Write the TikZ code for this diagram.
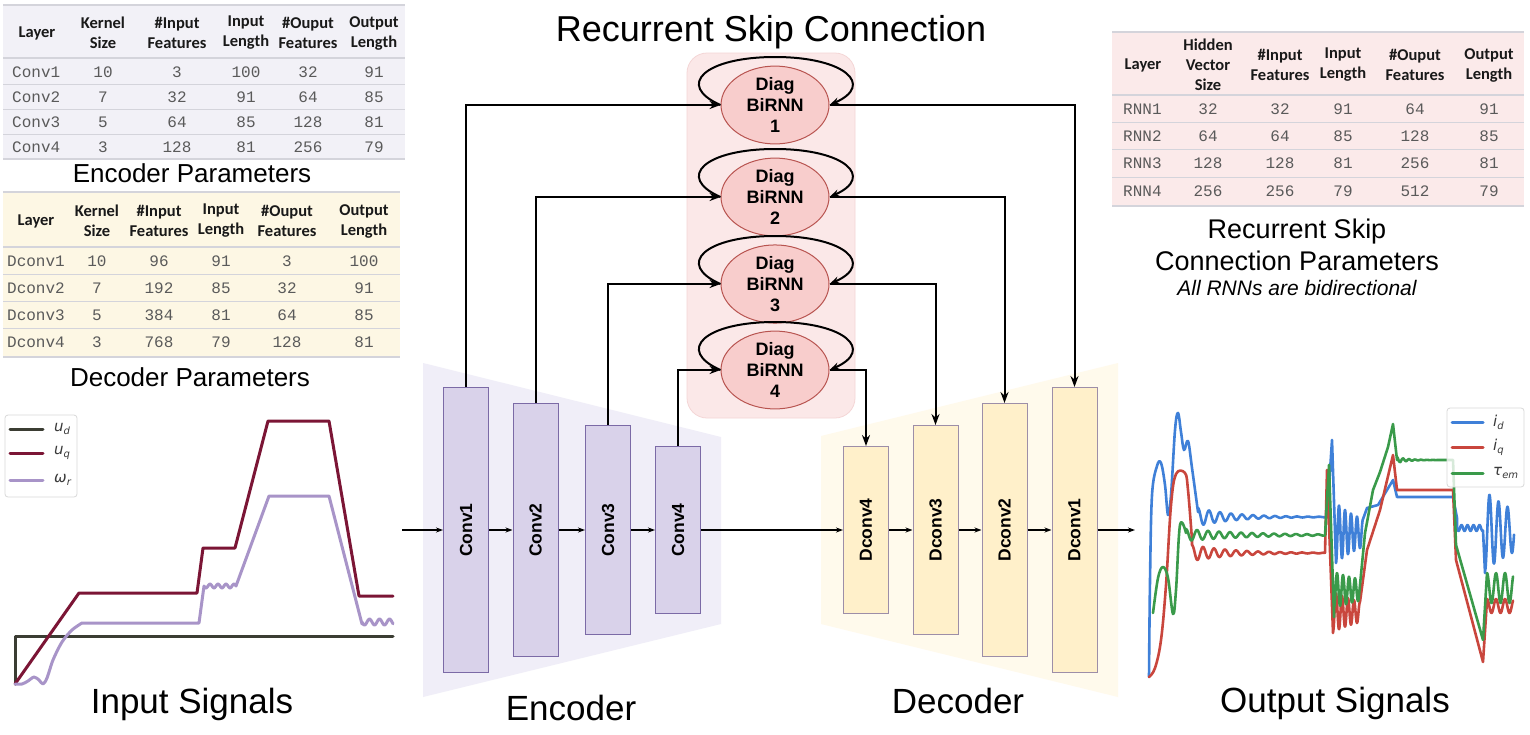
\documentclass[tikz,border=0pt]{standalone}
\usepackage{fontspec}
\setmainfont{Liberation Sans}
\newfontfamily\hdrf{Carlito}
\newfontfamily\monof{Liberation Mono}
\newfontfamily\dvsf{DejaVu Sans}
\usetikzlibrary{arrows.meta,shapes.geometric}
\newcommand\fsz[2]{\fontsize{#1}{#2}\selectfont}
\newcommand\lsub[2]{#1\raisebox{-0.35ex}{\fontsize{10}{10}\selectfont #2}}
\definecolor{encbg}{HTML}{F2F1F7}
\definecolor{decbg}{HTML}{FDF7E4}
\definecolor{rnnbg}{HTML}{FBEAEA}
\definecolor{tline}{HTML}{D4D4DB}
\definecolor{datgray}{HTML}{5A5A5A}
\definecolor{enctrap}{HTML}{F0EEF8}
\definecolor{dectrap}{HTML}{FFFAEC}
\definecolor{encfill}{HTML}{D9D2EA}
\definecolor{encdraw}{HTML}{7B6AA6}
\definecolor{decfill}{HTML}{FFF0CA}
\definecolor{decdraw}{HTML}{9D8EA8}
\definecolor{rnnback}{HTML}{FBE8E8}
\definecolor{rnnbackd}{HTML}{F4D6D6}
\definecolor{ellfill}{HTML}{F8CDCC}
\definecolor{elldraw}{HTML}{B85450}
\definecolor{udcol}{HTML}{3B3D33}
\definecolor{uqcol}{HTML}{7B1535}
\definecolor{wrcol}{HTML}{A894C8}
\definecolor{idcol}{HTML}{3F80D8}
\definecolor{iqcol}{HTML}{C9463D}
\definecolor{tecol}{HTML}{3A9A4A}
\definecolor{legtxt}{HTML}{3A3A3A}
\begin{document}
\begin{tikzpicture}[x=1pt,y=-1pt,
  thdr/.style={font=\hdrf\bfseries\fsz{16.5}{20}, align=center, text=black!90, inner sep=0pt},
  tdat/.style={font=\monof\fsz{16}{20}, text=datgray, inner sep=0pt},
  thin line/.style={draw=tline, line width=1pt},
  thick line/.style={draw=tline, line width=2.2pt},
  caption/.style={font=\fsz{26}{32}, inner sep=0pt, anchor=base},
  biglabel/.style={font=\fsz{35}{40}, inner sep=0pt, anchor=base},
  encbox/.style={draw=encdraw, fill=encfill, line width=1pt, minimum width=45pt, inner sep=0pt},
  decbox/.style={draw=decdraw, fill=decfill, line width=1pt, minimum width=45pt, inner sep=0pt},
  boxlab/.style={rotate=90, font=\bfseries\fsz{17.5}{20}, inner sep=0pt},
  rnnell/.style={ellipse, draw=elldraw, fill=ellfill, line width=1pt, minimum width=108pt, minimum height=74pt, inner sep=0pt, align=center, font=\bfseries\fsz{18}{21}},
  skiparr/.style={line width=2pt, -{Stealth[length=11pt,width=8pt]}},
  selfloop/.style={line width=2pt, -{Stealth[length=10pt,width=7pt]}},
  harr/.style={line width=1.2pt, -{Stealth[length=7pt,width=5pt]}},
  sig/.style={line width=3pt, line join=round, line cap=round},
  osig/.style={line width=2.6pt, line join=round, line cap=round},
  leglab/.style={font=\dvsf\itshape\fsz{15}{18}, text=legtxt, anchor=west, inner sep=0pt},
  legbox/.style={draw=black!15, fill=white, fill opacity=0.8, rounded corners=3pt, line width=0.8pt}
]
\useasboundingbox (0,0) rectangle (1530,734);
\fill[white] (0,0) rectangle (1530,734);

% ================= Encoder table =================
\fill[encbg] (3,5) rectangle (405,159);
\draw[thick line] (3,5) -- (405,5);
\draw[thick line] (3,58) -- (405,58);
\foreach \yy in {84.5,109.5,134.5}{\draw[thin line] (3,\yy) -- (405,\yy);}
\draw[thick line] (3,159) -- (405,159);
\node[thdr] (eh0) at (37,33) {Layer};
\node[thdr] (eh1) at (103,33) {Kernel\\Size};
\node[thdr] (eh2) at (177,33) {\#Input\\Features};
\node[thdr] (eh3) at (246,33) {Input\\Length};
\node[thdr] (eh4) at (308,33) {\#Ouput\\Features};
\node[thdr] (eh5) at (374,33) {Output\\Length};
\foreach \n/\a/\b/\c/\d/\e [count=\r] in {Conv1/10/3/100/32/91, Conv2/7/32/91/64/85, Conv3/5/64/85/128/81, Conv4/3/128/81/256/79}{
  \pgfmathsetmacro\yy{72+25*(\r-1)}
  \node[tdat, anchor=west, name=er\r-0] at (12,\yy) {\n};
  \node[tdat, name=er\r-1] at (103,\yy) {\a};
  \node[tdat, name=er\r-2] at (177,\yy) {\b};
  \node[tdat, name=er\r-3] at (246,\yy) {\c};
  \node[tdat, name=er\r-4] at (308,\yy) {\d};
  \node[tdat, name=er\r-5] at (374,\yy) {\e};
}
\node[caption] (encpar) at (192,182) {Encoder Parameters};

% ================= Decoder table =================
\fill[decbg] (3,192) rectangle (400,357);
\draw[thick line] (3,192) -- (400,192);
\draw[thick line] (3,247) -- (400,247);
\foreach \yy in {274.5,301.5,328.5}{\draw[thin line] (3,\yy) -- (400,\yy);}
\draw[thick line] (3,357) -- (400,357);
\node[thdr] (dh0) at (36,221) {Layer};
\node[thdr] (dh1) at (97,221) {Kernel\\Size};
\node[thdr] (dh2) at (159,221) {\#Input\\Features};
\node[thdr] (dh3) at (221,221) {Input\\Length};
\node[thdr] (dh4) at (287,221) {\#Ouput\\Features};
\node[thdr] (dh5) at (364,221) {Output\\Length};
\foreach \n/\a/\b/\c/\d/\e [count=\r] in {Dconv1/10/96/91/3/100, Dconv2/7/192/85/32/91, Dconv3/5/384/81/64/85, Dconv4/3/768/79/128/81}{
  \pgfmathsetmacro\yy{261+27*(\r-1)}
  \node[tdat, anchor=west, name=dr\r-0] at (7,\yy) {\n};
  \node[tdat, name=dr\r-1] at (97,\yy) {\a};
  \node[tdat, name=dr\r-2] at (159,\yy) {\b};
  \node[tdat, name=dr\r-3] at (221,\yy) {\c};
  \node[tdat, name=dr\r-4] at (287,\yy) {\d};
  \node[tdat, name=dr\r-5] at (364,\yy) {\e};
}
\node[caption] (decpar) at (190,386) {Decoder Parameters};

% ================= RNN table =================
\fill[rnnbg] (1112,32) rectangle (1524,206);
\draw[thick line] (1112,32) -- (1524,32);
\draw[thick line] (1112,95) -- (1524,95);
\foreach \yy in {122.5,149.7,177}{\draw[thin line] (1112,\yy) -- (1524,\yy);}
\draw[thick line] (1112,206) -- (1524,206);
\node[thdr] (rh0) at (1143,65) {Layer};
\node[thdr] (rh1) at (1208,65) {Hidden\\Vector\\Size};
\node[thdr] (rh2) at (1280,65) {\#Input\\Features};
\node[thdr] (rh3) at (1343,65) {Input\\Length};
\node[thdr] (rh4) at (1415,65) {\#Ouput\\Features};
\node[thdr] (rh5) at (1489,65) {Output\\Length};
\foreach \n/\a/\b/\c/\d/\e [count=\r] in {RNN1/32/32/91/64/91, RNN2/64/64/85/128/85, RNN3/128/128/81/256/81, RNN4/256/256/79/512/79}{
  \pgfmathsetmacro\yy{109+27.3*(\r-1)}
  \node[tdat, anchor=west, name=rr\r-0] at (1123,\yy) {\n};
  \node[tdat, name=rr\r-1] at (1208,\yy) {\a};
  \node[tdat, name=rr\r-2] at (1280,\yy) {\b};
  \node[tdat, name=rr\r-3] at (1343,\yy) {\c};
  \node[tdat, name=rr\r-4] at (1415,\yy) {\d};
  \node[tdat, name=rr\r-5] at (1489,\yy) {\e};
}
\node[font=\fsz{27}{32}, inner sep=0pt, anchor=base] (rpar1) at (1297,238) {Recurrent Skip};
\node[font=\fsz{27}{32}, inner sep=0pt, anchor=base] (rpar2) at (1297,270) {Connection Parameters};
\node[font=\itshape\fsz{21}{24}, inner sep=0pt, anchor=base] (rpar3) at (1297,295) {All RNNs are bidirectional};

% ================= Title =================
\node[font=\fsz{36}{40}, inner sep=0pt, anchor=base] (title) at (771,41) {Recurrent Skip Connection};

% ================= Trapezoids =================
\fill[enctrap] (423,363) -- (721,437) -- (721,624) -- (423,697) -- cycle;
\fill[dectrap] (821,436) -- (1118,363) -- (1118,697) -- (821,624) -- cycle;

% ================= RNN block =================
\filldraw[fill=rnnback, draw=rnnbackd, line width=0.8pt, rounded corners=20pt] (687,53) rectangle (855,418);
\node[rnnell] (e1) at (775,105) {Diag\\BiRNN\\1};
\node[rnnell] (e2) at (775,197) {Diag\\BiRNN\\2};
\node[rnnell] (e3) at (775,284) {Diag\\BiRNN\\3};
\node[rnnell] (e4) at (775,370) {Diag\\BiRNN\\4};
\foreach \i in {1,2,3,4}{
  \draw[selfloop] (e\i.west) .. controls ([shift={(-100,-20)}]e\i.center) and ([shift={(-70,-48)}]e\i.center) .. ([shift={(0,-48)}]e\i.center)
     .. controls ([shift={(70,-48)}]e\i.center) and ([shift={(100,-20)}]e\i.center) .. (e\i.east);
}

% ================= Encoder / decoder boxes =================
\node[encbox, minimum height=285pt] (c1) at (466,530) {};
\node[encbox, minimum height=253pt] (c2) at (535.5,530) {};
\node[encbox, minimum height=209pt] (c3) at (608,530) {};
\node[encbox, minimum height=167pt] (c4) at (678,530) {};
\node[decbox, minimum height=167pt] (d4) at (866,530) {};
\node[decbox, minimum height=209pt] (d3) at (935.5,530) {};
\node[decbox, minimum height=253pt] (d2) at (1004.5,530) {};
\node[decbox, minimum height=285pt] (d1) at (1074.5,530) {};
\node[boxlab] (c1l) at (c1) {Conv1};
\node[boxlab] (c2l) at (c2) {Conv2};
\node[boxlab] (c3l) at (c3) {Conv3};
\node[boxlab] (c4l) at (c4) {Conv4};
\node[boxlab] (d4l) at (d4) {Dconv4};
\node[boxlab] (d3l) at (d3) {Dconv3};
\node[boxlab] (d2l) at (d2) {Dconv2};
\node[boxlab] (d1l) at (d1) {Dconv1};

% ================= Connectors =================
\coordinate (inp) at (402,530);
\coordinate (outp) at (1135,530);
\draw[harr] (inp) -- (c1.west);
\draw[harr] (c1.east) -- (c2.west);
\draw[harr] (c2.east) -- (c3.west);
\draw[harr] (c3.east) -- (c4.west);
\draw[harr] (c4.east) -- (d4.west);
\draw[harr] (d4.east) -- (d3.west);
\draw[harr] (d3.east) -- (d2.west);
\draw[harr] (d2.east) -- (d1.west);
\draw[harr] (d1.east) -- (outp);
\draw[skiparr] (c1.north) |- (e1.west);
\draw[skiparr] (c2.north) |- (e2.west);
\draw[skiparr] (c3.north) |- (e3.west);
\draw[skiparr] (c4.north) |- (e4.west);
\draw[skiparr] (e1.east) -| (d1.north);
\draw[skiparr] (e2.east) -| (d2.north);
\draw[skiparr] (e3.east) -| (d3.north);
\draw[skiparr] (e4.east) -| (d4.north);

% ================= Labels =================
\node[biglabel] (enclab) at (571,720) {Encoder};
\node[biglabel] (declab) at (958,713) {Decoder};
\node[biglabel] (inlab) at (192,713) {Input Signals};
\node[biglabel] (outlab) at (1335,712) {Output Signals};

% ================= Input signals =================
\draw[sig, udcol] (15,684) -- (15,636) -- (393,636);
\draw[sig, uqcol] (15,684) -- (79,593) -- (197,593) -- (203,548) -- (235,548) -- (268,421) -- (329,421) -- (359,596) -- (393,596);
\draw[sig, wrcol] plot[smooth] coordinates {(15,684) (22,684) (28,681) (34,677) (39,680) (43,684) (47,678) (53,660) (62,642) (72,630) (82,623)}
  -- (199,623) -- (204,586)
  -- plot[domain=0:32, samples=40] (\x+204,{586+2*sin(\x*45)})
  -- (269,496) -- (329,496) -- (362,624)
  -- plot[domain=0:31, samples=40] (\x+362,{622+3*sin(\x*36)});
\draw[legbox] (5,415) rectangle (77,497);
\draw[sig, udcol] (10,429) -- (43,429);
\draw[sig, uqcol] (10,453) -- (43,453);
\draw[sig, wrcol] (10,480) -- (43,480);
\node[leglab] (lud) at (54,429) {\lsub{u}{d}};
\node[leglab] (luq) at (54,453) {\lsub{u}{q}};
\node[leglab] (lwr) at (54,480) {\lsub{ω}{r}};

% ================= Output signals =================
\draw[osig, idcol] plot[smooth, tension=0.6] coordinates {(1149,677) (1150,580) (1152,495) (1157,466) (1161,463) (1165,485) (1168,515) (1171,495) (1175,430) (1178,413) (1181,432) (1184,450) (1188,441) (1192,468) (1198,512)}
  -- plot[domain=0:129, samples=240] (\x+1198,{517-9*exp(-\x/35)*cos(\x*32.727)})
  -- (1332,440) -- (1336,563)
  -- plot[domain=0:27, samples=90] (\x+1336,{533+30*exp(-\x/35)*cos(\x*60)})
  -- (1367,508) -- (1378,505) -- (1393,480) -- (1397,497) -- (1453,497) -- (1457,518)
  -- plot[domain=0:26, samples=60] (\x+1457,{528+3*sin(\x*60)})
  -- (1485,573)
  -- plot[domain=0:29, samples=90] (\x+1485,{531+40*exp(-\x/45)*cos(\x*40)});
\draw[osig, iqcol] plot[smooth, tension=0.6] coordinates {(1149,677) (1155,668) (1161,640) (1166,585) (1171,505) (1176,474) (1185,473) (1188,490) (1192,540)}
  -- plot[domain=0:133, samples=240] (\x+1192,{553-8*exp(-\x/40)*cos(\x*32.727)})
  -- (1327,470) -- (1333,633)
  -- plot[domain=0:27, samples=90] (\x+1333,{612+20*exp(-\x/40)*cos(\x*60)})
  -- (1367,550) -- (1380,510) -- (1393,455) -- (1397,490) -- (1453,490)
  -- (1456,560) -- (1483,662) -- (1487,600)
  -- plot[domain=0:26, samples=60] (\x+1487,{606-7*cos(\x*40)});
\draw[osig, tecol] plot[smooth, tension=0.6] coordinates {(1153,613) (1158,578) (1163,567) (1168,578) (1173,614) (1176,590) (1180,525) (1186,533)}
  -- plot[domain=0:139, samples=240] (\x+1186,{535-6*exp(-\x/60)*cos(\x*32.727)})
  -- (1329,465) -- (1334,617)
  -- plot[domain=0:26, samples=90] (\x+1334,{590+18*exp(-\x/50)*cos(\x*60)})
  -- (1365,533) -- (1373,490) -- (1380,472) -- (1388,447) -- (1393,424) -- (1397,460)
  -- plot[domain=0:56, samples=80] (\x+1397,{460-3*exp(-\x/10)*cos(\x*60)})
  -- (1456,545) -- (1483,640) -- (1487,573)
  -- plot[domain=0:26, samples=60] (\x+1487,{588-15*cos(\x*40)});
\draw[legbox] (1447,408) rectangle (1524,487);
\draw[sig, idcol] (1452,422) -- (1483,422);
\draw[sig, iqcol] (1452,447) -- (1483,447);
\draw[sig, tecol] (1452,473) -- (1483,473);
\node[leglab] (lid) at (1493,422) {\lsub{i}{d}};
\node[leglab] (liq) at (1493,447) {\lsub{i}{q}};
\node[leglab] (lte) at (1493,473) {\lsub{τ}{em}};
\end{tikzpicture}
\end{document}
